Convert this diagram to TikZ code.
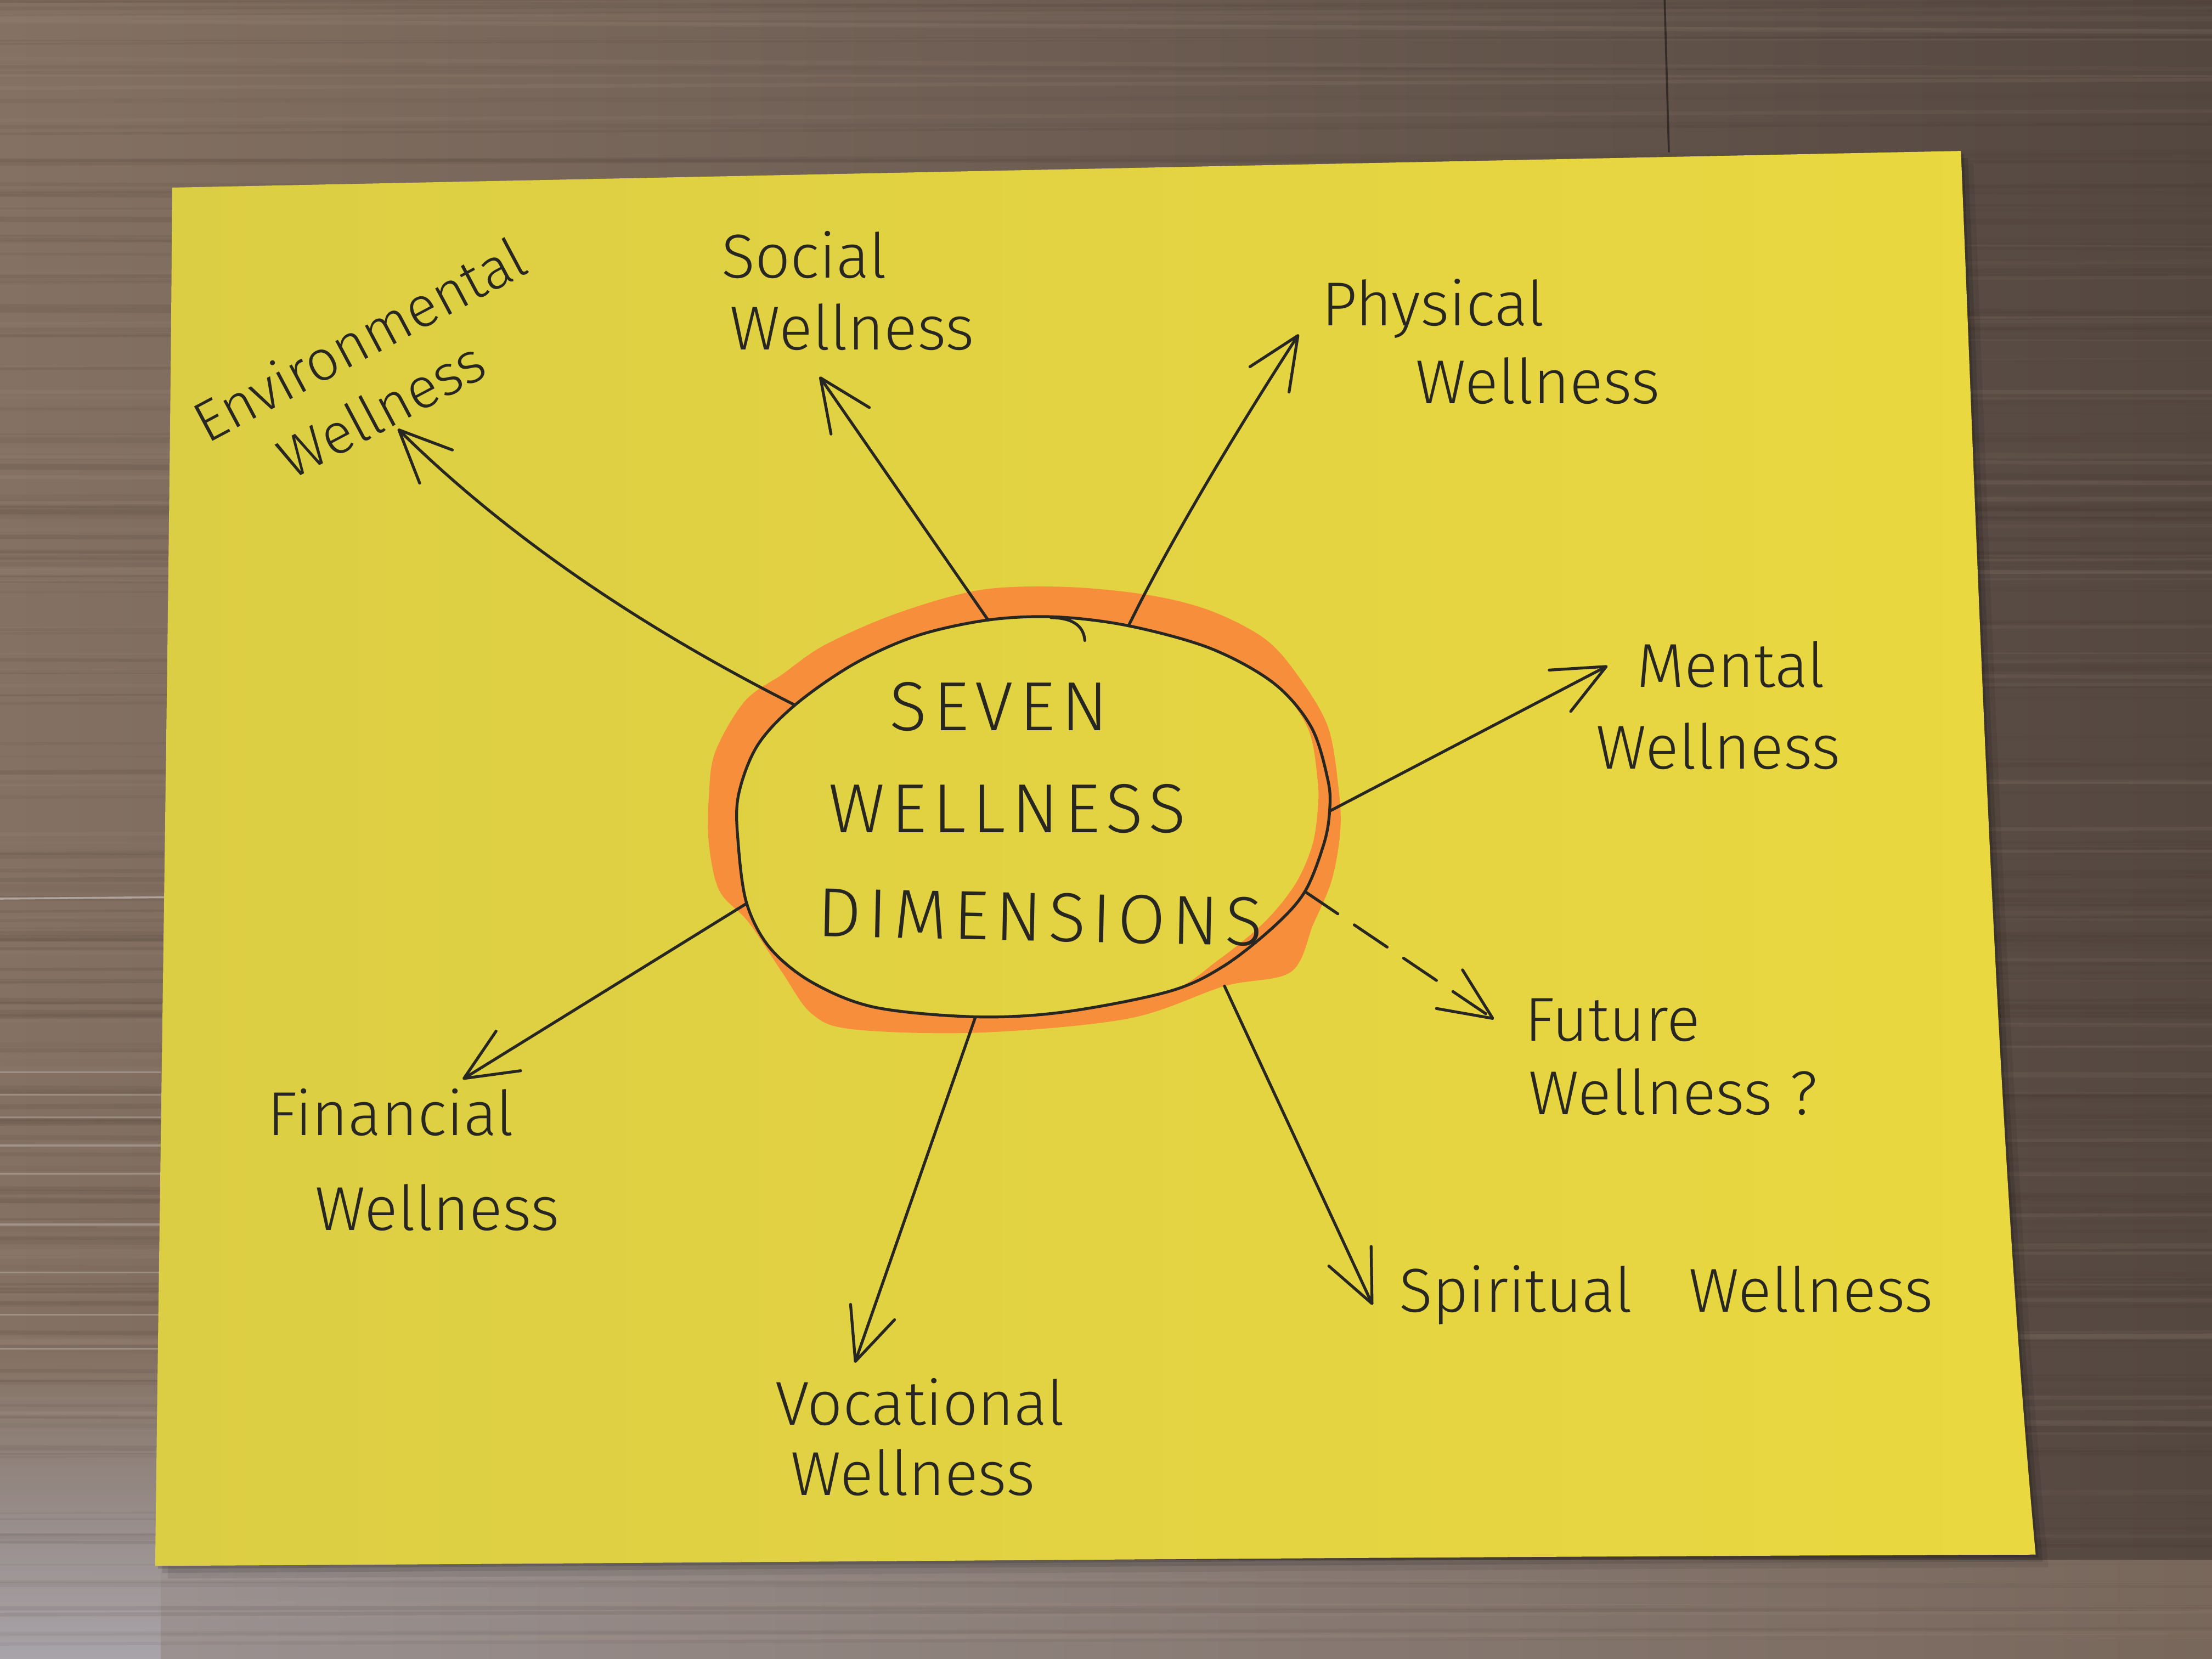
\documentclass[tikz,border=0pt]{standalone}
\usepackage{fontspec}
\setmainfont{Fira Sans Light}
\newfontfamily\capsfont{Fira Sans Light}[LetterSpace=9]
\usetikzlibrary{arrows.meta}
\definecolor{woodL}{RGB}{132,113,99}
\definecolor{woodR}{RGB}{84,71,64}
\definecolor{grainD}{RGB}{62,48,40}
\definecolor{grainL}{RGB}{176,158,144}
\definecolor{paperL}{RGB}{220,206,68}
\definecolor{paperR}{RGB}{234,216,64}
\definecolor{hl}{RGB}{247,142,60}
\definecolor{ink}{RGB}{40,38,32}
\definecolor{glare}{RGB}{168,164,170}
\newcommand{\paperoutline}{(122,133) -- (1390,107) .. controls (1402,400) and (1415,800) .. (1443,1102) .. controls (900,1104) and (500,1108) .. (110,1110) .. controls (113,850) and (121,350) .. cycle}
\begin{document}
\begin{tikzpicture}[x=0.01cm,y=-0.01cm,
  pen/.style={draw=ink, line width=0.58pt, line cap=round, line join=round},
  arr/.style={pen, -{Straight Barb[length=3.7mm,width=3.3mm,round]}},
  lbl/.style={text=ink, font=\fontsize{12.5}{14}\selectfont, inner sep=0pt, anchor=base, text height=8.8pt, text depth=2.2pt},
  ctr/.style={text=ink, font=\capsfont\fontsize{14}{16}\selectfont, inner sep=0pt, anchor=base, text height=10pt, text depth=0pt},
]
\useasboundingbox (0,0) rectangle (1568,1176);
% wooden table
\shade[left color=woodL, right color=woodR] (0,0) rectangle (1568,1176);
\shade[left color=glare!70!woodL, right color=woodL!75!woodR] (0,1106) rectangle (1568,1176);
\shade[top color=woodL, bottom color=glare] (0,960) rectangle (114,1176);
\pgfmathsetseed{11}
\foreach \k in {1,...,150}{
  \pgfmathsetmacro{\yy}{rnd*1176}
  \pgfmathsetmacro{\dy}{(rnd-0.5)*16}
  \pgfmathsetmacro{\op}{0.04+0.09*rnd}
  \pgfmathsetmacro{\lw}{0.3+0.9*rnd}
  \draw[line width=\lw pt, draw=grainD, opacity=\op] (0,\yy) -- (1568,\yy+\dy);
}
\foreach \k in {1,...,70}{
  \pgfmathsetmacro{\yy}{rnd*1176}
  \pgfmathsetmacro{\dy}{(rnd-0.5)*16}
  \pgfmathsetmacro{\op}{0.04+0.08*rnd}
  \pgfmathsetmacro{\lw}{0.3+0.9*rnd}
  \draw[line width=\lw pt, draw=grainL, opacity=\op] (0,\yy) -- (1568,\yy+\dy);
}
\draw[black, opacity=0.45, line width=0.4pt] (1180,0) -- (1183,108);
\draw[white, opacity=0.4, line width=0.4pt] (0,637) -- (117,636);
\foreach \yy in {760,776,792,812,832,868,902,932,956}
  \draw[white, opacity=0.22, line width=0.35pt] (0,\yy) -- (114,\yy);
% paper with soft shadow
\foreach \s/\o in {9/0.07, 5/0.11, 2/0.15}{
  \begin{scope}[shift={(\s,\s)}]
    \fill[black, opacity=\o] \paperoutline;
  \end{scope}
}
\shade[left color=paperL, right color=paperR] \paperoutline;
% points on the drawn ellipse where the arrows start
\coordinate (oSoc) at (700.4,439.5);
\coordinate (oPhy) at (800,443.6);
\coordinate (oMen) at (942.5,575);
\coordinate (oFut) at (925,632);
\coordinate (oVoc) at (691.5,720.8);
\coordinate (oFin) at (529.3,640.4);
\coordinate (oEnv) at (563.5,499.8);
\coordinate (oSpi) at (868,699);
% orange highlighter ring
\fill[hl, even odd rule]
  plot[smooth cycle, tension=0.55] coordinates {(694.4,418.3) (754,416) (813.5,421.7) (858,432.9) (896.8,453) (920.6,479.7) (941.4,515.4) (949,560) (950,590) (944,624) (931,655) (915,689) (oSpi) (800,722) (694.4,732) (605.1,729.7) (575.4,718.6) (554.6,689.5) (530.7,653.8) (510,631.5) (502.5,598) (502.5,564.5) (507,533) (528,497) (554.6,478) (584.3,457.4) (634.9,435.1)}
  plot[smooth cycle, tension=0.55] coordinates {(oSoc) (748,437.3) (oPhy) (858,459.6) (902.8,484.2) (927,516) (934,553) (934,575) (930,600) (918,627) (896,654) (863,681) (828.3,702.9) (754,717.4) (oVoc) (620,714) (575.4,696.2) (545.6,671.7) (oFin) (523.3,598) (523.3,564.5) (536.7,528.8) (oEnv) (605.1,470.8) (649.8,450.7)};
% black pen outline
\draw[pen] plot[smooth cycle, tension=0.55] coordinates {(oSoc) (748,437.3) (oPhy) (858,459.6) (902.8,484.2) (929.5,515.4) (941.4,553.4) (oMen) (938.5,598) (oFut) (902.8,657) (867,685.1) (828.3,702.9) (754,717.4) (oVoc) (620,714) (575.4,696.2) (545.6,671.7) (oFin) (523.3,598) (523.3,564.5) (536.7,528.8) (oEnv) (605.1,470.8) (649.8,450.7)};
\draw[pen] (745,437.8) .. controls (758,438) and (768,442) .. (769,454);
% centre text
\node[ctr] (seven) at (708,518) {SEVEN};
\node[ctr] (wellc) at (714,590) {WELLNESS};
\node[ctr, rotate=-1.2] (dims) at (737,667) {DIMENSIONS};
% labels
\node[text=ink, inner sep=0pt, anchor=base west, rotate=28, font=\fontsize{11.5}{13}\selectfont] (env) at (146,315)
  {\begin{tabular}[t]{@{}l@{}}Environmental\\[1.5pt]\hspace*{4.1mm}Wellness\end{tabular}};
\node[lbl] (socA) at (570,197) {Social};
\node[lbl] (socB) at (604,248) {Wellness};
\node[lbl] (phyA) at (1016,231) {Physical};
\node[lbl] (phyB) at (1090,286) {Wellness};
\node[lbl] (menA) at (1227,487) {Mental};
\node[lbl] (menB) at (1218,545) {Wellness};
\node[lbl] (futA) at (1143,738) {Future};
\node[lbl] (futB) at (1186,790) {Wellness ?};
\node[lbl] (spi) at (1181,930) {Spiritual\hspace{4mm}Wellness};
\node[lbl] (vocA) at (652,1010) {Vocational};
\node[lbl] (vocB) at (647,1060) {Wellness};
\node[lbl] (finA) at (277,805) {Financial};
\node[lbl] (finB) at (310,872) {Wellness};
% arrow tips
\coordinate (tEnv) at (282,304);
\coordinate (tSoc) at (581,267);
\coordinate (tPhy) at (920.6,237);
\coordinate (tMen) at (1139.5,472);
\coordinate (tFut) at (1059,722.5);
\coordinate (tSpi) at (973,925);
\coordinate (tVoc) at (606,966);
\coordinate (tFin) at (328,765);
% connectors
\draw[arr] (oEnv) .. controls (451,443) and (357,378) .. (tEnv);
\draw[arr] (oSoc) -- (tSoc);
\draw[arr] (oPhy) .. controls (825,392) and (872,312) .. (tPhy);
\draw[arr] (oMen) -- (tMen);
\draw[arr, dash pattern=on 8pt off 4pt] (oFut) -- (tFut);
\draw[arr] (oSpi) -- (tSpi);
\draw[arr] (oVoc) -- (tVoc);
\draw[arr] (oFin) -- (tFin);
\end{tikzpicture}
\end{document}
